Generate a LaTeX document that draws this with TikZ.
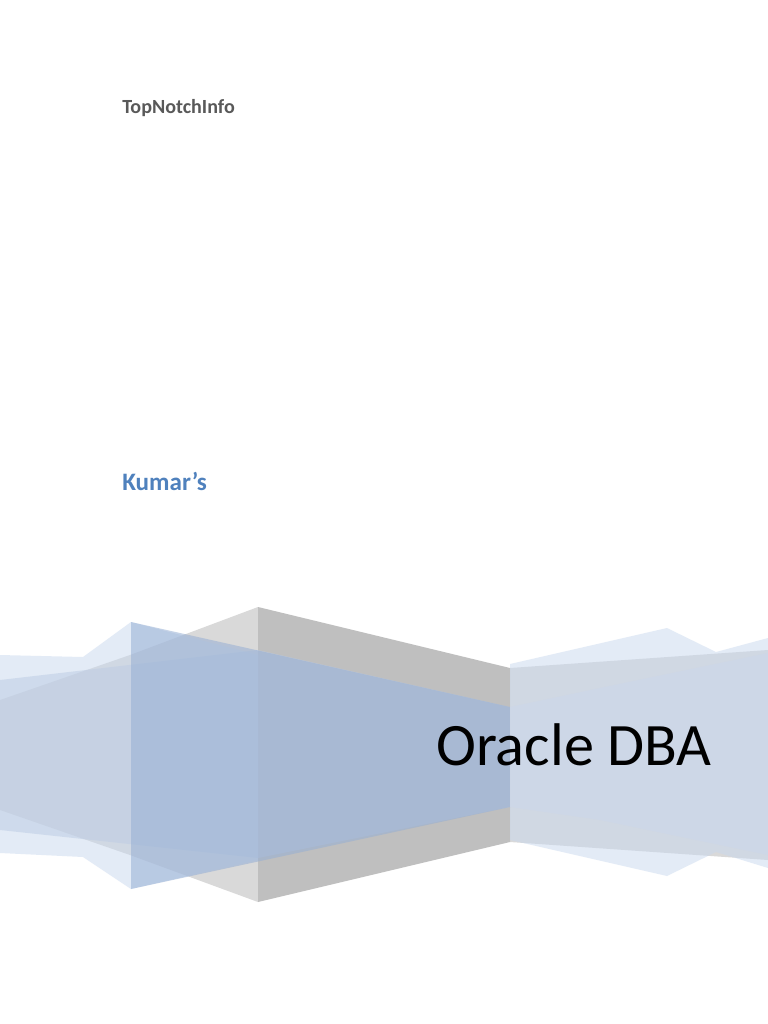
\documentclass[tikz,border=0pt]{standalone}
\usepackage{fontspec}
\setmainfont{Carlito}
\begin{document}
\begin{tikzpicture}[x=0.797pt,y=-0.797pt,
  face/.style={draw=none},
  lbl/.style={anchor=base west,inner sep=0pt}]
\useasboundingbox (0,0) rectangle (768,1024);
\fill[white] (0,0) rectangle (768,1024);
% grays
\fill[face,fill=black!15] (258,607)--(130,655)--(0,700)--(0,810)--(130,855)--(258,902)--cycle;
\fill[face,fill=black!15] (510,668)--(768,650)--(768,860)--(510,842)--cycle;
\fill[face,fill=black!25] (258,607)--(510,668)--(510,842)--(258,902)--cycle;
% blue wings
\fill[face,fill={rgb,255:red,200;green,216;blue,238},opacity=0.5] (0,655)--(83,657)--(131,622)--(258,655)--(258,860)--(131,889)--(83,857)--(0,853)--cycle;
\fill[face,fill={rgb,255:red,200;green,216;blue,238},opacity=0.5] (510,664)--(667,628)--(716,652)--(768,638)--(768,868)--(716,852)--(667,876)--(510,840)--cycle;
% bands
\fill[face,fill={rgb,255:red,190;green,205;blue,228},opacity=0.55] (0,680)--(258,650)--(510,707)--(510,807)--(258,858)--(0,830)--cycle;
\fill[face,fill={rgb,255:red,150;green,175;blue,212},opacity=0.55] (131,622)--(510,707)--(510,807)--(131,889)--cycle;
\fill[face,fill={rgb,255:red,205;green,215;blue,232},opacity=0.8] (510,707)--(600,688)--(768,653)--(768,855)--(600,820)--(510,807)--cycle;
% text
\node[lbl,text={rgb,255:red,89;green,89;blue,89},font=\bfseries\fontsize{16}{19}\selectfont] (t1) at (122,113) {TopNotchInfo};
\node[lbl,text={rgb,255:red,79;green,129;blue,189},font=\bfseries\fontsize{20}{24}\selectfont] (t2) at (122,490) {Kumar’s};
\node[lbl,text=black,font=\fontsize{48}{58}\selectfont] (t3) at (436,765) {Oracle DBA};
\end{tikzpicture}
\end{document}
